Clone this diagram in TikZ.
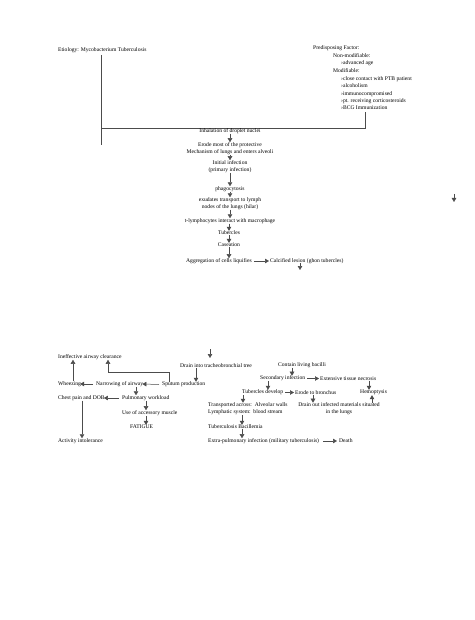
\documentclass[tikz,border=0pt]{standalone}
\usepackage{fontspec}
\setmainfont{Liberation Serif}
\usetikzlibrary{arrows.meta}
\begin{document}
\begin{tikzpicture}[x=1pt,y=-1pt,
 txt/.style={inner sep=0pt, font=\fontsize{5.6}{7}\selectfont, align=center},
 tl/.style={txt, anchor=west, align=left},
 ln/.style={line width=0.5pt, draw=black!70},
 arr/.style={ln, -{Triangle[length=4pt,width=4.5pt]}},
]
\useasboundingbox[fill=white] (0,0) rectangle (474,620);

% ---- top ----
\node[tl] (etio) at (58,50) {Etiology: Mycobacterium Tuberculosis};
\node[tl] (pf) at (313,48) {Predisposing Factor:};
\node[tl] (nm) at (333,56) {Non-modifiable:};
\node[tl] (aa) at (341,63) {›advanced age};
\node[tl] (mo) at (333,71) {Modifiable:};
\node[tl] (cc) at (341,79) {›close contact with PTB patient};
\node[tl] (al) at (341,86) {›alcoholism};
\node[tl] (im) at (341,94) {›immunocompromised};
\node[tl] (pt) at (341,101) {›pt. receiving corticosteroids};
\node[tl] (bcg) at (341,108) {›BCG Immunization};

\coordinate (L1) at (101,55);
\coordinate (L2) at (101,145);
\coordinate (J1) at (101,128);
\coordinate (J2) at (365,128);
\coordinate (R1) at (365,112);
\draw[ln] (L1) -- (L2);
\draw[ln] (J1) -- (J2) -- (R1);

% ---- centre column ----
\node[txt] (inh) at (230,131) {Inhalation of droplet nuclei};
\node[txt] (ero) at (230,148.5) {Erode most of the protective\\Mechanism of lungs and enters alveoli};
\node[txt] (ini) at (230,166.5) {Initial infection\\(primary infection)};
\node[txt] (pha) at (230,189) {phagocytosis};
\node[txt] (exu) at (230,203.5) {exudates transport to lymph\\nodes of the lungs (hilar)};
\node[txt] (tly) at (230,221) {t-lymphocytes interact with macrophage};
\node[txt] (tub) at (229,233) {Tubercles};
\node[txt] (cas) at (229,245) {Caseation};
\node[tl] (agg) at (186,261) {Aggregation of cells liquifies};
\node[tl] (cal) at (270,261) {Calcified lesion (ghon tubercles)};

\draw[arr] (inh.south) -- (ero.north);
\draw[arr] (ero.south) -- (ini.north);
\draw[arr] (ini.south) -- (pha.north);
\draw[arr] (pha.south) -- (exu.north);
\draw[arr] (exu.south) -- (tly.north);
\draw[arr] (tly.south -| tub) -- (tub.north);
\draw[arr] (tub.south) -- (cas.north);
\draw[arr] (cas.south) -- (cas.south |- agg.north);
\draw[arr] ([xshift=2pt]agg.east) -- ([xshift=-1pt]cal.west);

\coordinate (o1) at (300,263);
\coordinate (o2) at (300,270);
\draw[arr] (o1) -- (o2);
\coordinate (o3) at (454,194);
\coordinate (o4) at (454,202);
\draw[arr] (o3) -- (o4);

% ---- lower section ----
\coordinate (o5) at (210,349);
\coordinate (o6) at (210,358);
\draw[arr] (o5) -- (o6);

\node[tl] (iac) at (58,357) {Ineffective airway clearance};
\node[tl] (dra) at (180,366) {Drain into tracheobronchial tree};
\node[tl] (con) at (278,365) {Contain living bacilli};
\node[tl] (sec) at (260,378.5) {Secondary infection};
\node[tl] (ext) at (320,378.5) {Extensive tissue necrosis};
\node[tl] (whe) at (58,384) {Wheezing};
\node[tl] (nar) at (96,384) {Narrowing of airway};
\node[tl] (spu) at (162,384.5) {Sputum production};
\node[tl] (tde) at (242,392.5) {Tubercles develop};
\node[tl] (etb) at (295,392.5) {Erode to bronchus};
\node[tl] (hem) at (360,392.5) {Hemoptysis};
\node[tl] (che) at (58,398) {Chest pain and DOB};
\node[tl] (pul) at (122,398) {Pulmonary workload};
\node[tl] (tra) at (208,409) {Transported across:\ \ Alveolar walls\\Lymphatic system:\ \ blood stream};
\node[txt] (dou) at (339,409) {Drain out infected materials situated\\in the lungs};
\node[tl] (use) at (122,413) {Use of accessory muscle};
\node[tl] (fat) at (130,427) {FATIGUE};
\node[tl] (bac) at (208,427) {Tuberculosis Bacillemia};
\node[tl] (act) at (58,441) {Activity intolerance};
\node[tl] (exp) at (208,441) {Extra-pulmonary infection (military tuberculosis)};
\node[tl] (dea) at (339,441) {Death};

\draw[arr] (dra.south -| 196,0) -- (spu.north -| 196,0);
\draw[arr] (con.south -| 292,0) -- (sec.north -| 292,0);
\draw[arr] ([xshift=2pt]sec.east) -- ([xshift=-1pt]ext.west);
\draw[arr] (ext.south -| 369,0) -- (hem.north -| 369,0);
\draw[arr] (sec.south -| 268,0) -- (tde.north -| 268,0);
\draw[arr] ([xshift=2pt]tde.east) -- ([xshift=-1pt]etb.west);
\draw[arr] (dou.north -| 372,0) -- (hem.south -| 372,0);
\draw[arr] (etb.south -| 313,0) -- (dou.north -| 313,0);
\draw[arr] (tde.south -| 243,0) -- (tra.north -| 243,0);
\draw[arr] (tra.south -| 242,0) -- (bac.north -| 242,0);
\draw[arr] (bac.south -| 242,0) -- (exp.north -| 242,0);
\draw[arr] ([xshift=4pt]exp.east) -- ([xshift=-2pt]dea.west);

\draw[arr] ([xshift=-3pt]spu.west) -- ([xshift=-1pt]nar.east);
\draw[arr] ([xshift=-3pt]nar.west) -- ([xshift=-1pt]whe.east);
\draw[arr] (whe.north -| 73,0) -- (iac.south -| 73,0);
\coordinate (e1) at (169,372);
\coordinate (e2) at (108,372);
\draw[arr] (spu.north -| e1) -- (e1) -- (e2) -- (iac.south -| e2);
\draw[arr] (nar.south -| 136,0) -- (pul.north -| 136,0);
\draw[arr] ([xshift=-3pt]pul.west) -- ([xshift=-1pt]che.east);
\draw[arr] (pul.south -| 146,0) -- (use.north -| 146,0);
\draw[arr] (use.south -| 146,0) -- (fat.north -| 146,0);
\draw[arr] (che.south -| 82,0) -- (act.north -| 82,0);
\end{tikzpicture}
\end{document}
